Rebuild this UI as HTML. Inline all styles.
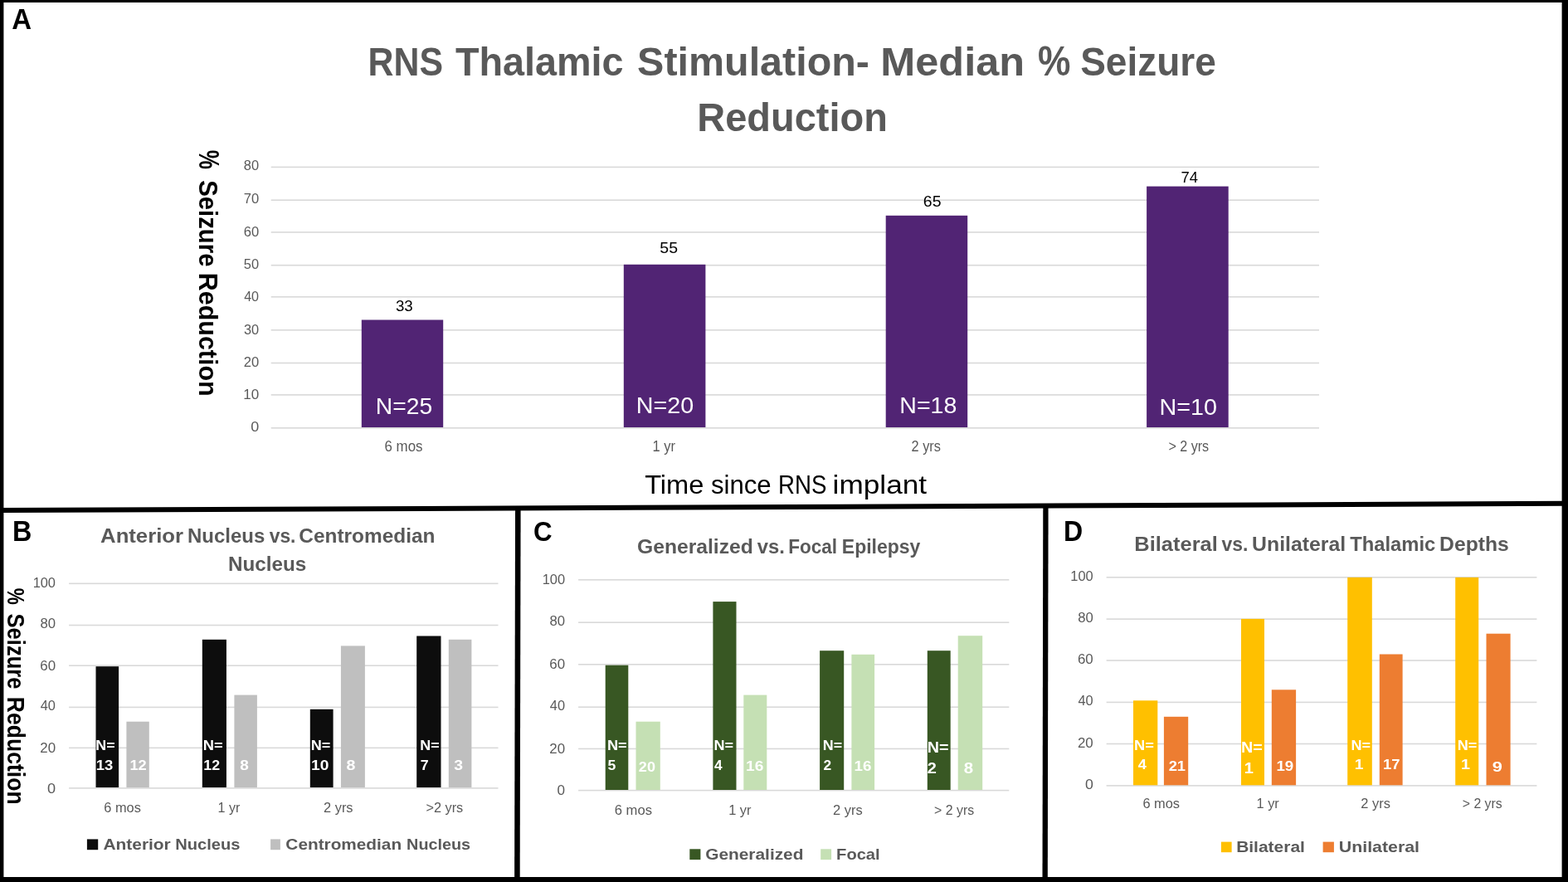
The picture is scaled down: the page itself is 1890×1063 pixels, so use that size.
<!DOCTYPE html>
<html lang="en">
<head>
<meta charset="utf-8">
<title>RNS Thalamic Stimulation - Median % Seizure Reduction</title>
<style>
html,body{margin:0;padding:0;background:#fff;}
body{width:1890px;height:1063px;overflow:hidden;font-family:"Liberation Sans", sans-serif;}
svg text{white-space:pre;}
</style>
</head>
<body>
<svg width="1890" height="1063" viewBox="0 0 1890 1063" font-family='"Liberation Sans", sans-serif' style="display:block" role="img" aria-label="Bar charts of median percent seizure reduction after RNS thalamic stimulation">
<g id="panel-a" aria-label="A: RNS Thalamic Stimulation - Median % Seizure Reduction">
<rect x="326.70" y="515.00" width="1263.30" height="1.60" fill="#D9D9D9"/>
<rect x="326.70" y="475.10" width="1263.30" height="1.60" fill="#D9D9D9"/>
<rect x="326.70" y="436.70" width="1263.30" height="1.60" fill="#D9D9D9"/>
<rect x="326.70" y="397.00" width="1263.30" height="1.60" fill="#D9D9D9"/>
<rect x="326.70" y="357.00" width="1263.30" height="1.60" fill="#D9D9D9"/>
<rect x="326.70" y="318.90" width="1263.30" height="1.60" fill="#D9D9D9"/>
<rect x="326.70" y="279.10" width="1263.30" height="1.60" fill="#D9D9D9"/>
<rect x="326.70" y="240.40" width="1263.30" height="1.60" fill="#D9D9D9"/>
<rect x="326.70" y="200.60" width="1263.30" height="1.60" fill="#D9D9D9"/>
<rect x="435.80" y="385.50" width="98.40" height="129.50" fill="#512474"/>
<rect x="751.80" y="318.80" width="98.60" height="196.20" fill="#512474"/>
<rect x="1067.70" y="259.80" width="98.50" height="255.20" fill="#512474"/>
<rect x="1382.10" y="224.60" width="98.60" height="290.40" fill="#512474"/>
<text transform="translate(14.34 35.00) scale(0.9500 1)" font-size="34.68" fill="#000" font-weight="bold">A</text>
<text transform="translate(443.51 91.00) scale(0.8916 1)" font-size="48.06" fill="#595959" font-weight="bold">RNS</text>
<text transform="translate(548.93 91.00) scale(0.9729 1)" font-size="48.06" fill="#595959" font-weight="bold">Thalamic</text>
<text transform="translate(768.09 91.00) scale(1.0079 1)" font-size="48.06" fill="#595959" font-weight="bold">Stimulation-</text>
<text transform="translate(1061.32 91.00) scale(1.0495 1)" font-size="48.06" fill="#595959" font-weight="bold">Median</text>
<text transform="translate(1251.01 91.00) scale(0.8825 1)" font-size="50.29" fill="#595959" font-weight="bold">%</text>
<text transform="translate(1302.15 91.00) scale(0.9575 1)" font-size="48.06" fill="#595959" font-weight="bold">Seizure</text>
<text transform="translate(840.35 157.50) scale(0.9773 1)" font-size="48.06" fill="#595959" font-weight="bold">Reduction</text>
<text transform="translate(240.20 180.78) rotate(90) scale(0.7628 1)" font-size="34.29" fill="#000" font-weight="bold">%</text>
<text transform="translate(240.20 217.17) rotate(90) scale(0.9184 1)" font-size="31.94" fill="#000" font-weight="bold">Seizure</text>
<text transform="translate(240.20 328.82) rotate(90) scale(0.9531 1)" font-size="31.94" fill="#000" font-weight="bold">Reduction</text>
<text transform="translate(302.17 519.70) scale(1.0579 1)" font-size="16.96" fill="#595959">0</text>
<text transform="translate(293.23 481.00) scale(1.0014 1)" font-size="16.96" fill="#595959">10</text>
<text transform="translate(293.67 441.60) scale(0.9770 1)" font-size="16.96" fill="#595959">20</text>
<text transform="translate(293.93 403.00) scale(0.9629 1)" font-size="16.96" fill="#595959">30</text>
<text transform="translate(294.18 363.00) scale(0.9493 1)" font-size="16.96" fill="#595959">40</text>
<text transform="translate(293.84 323.60) scale(0.9676 1)" font-size="16.96" fill="#595959">50</text>
<text transform="translate(293.67 284.80) scale(0.9770 1)" font-size="16.96" fill="#595959">60</text>
<text transform="translate(293.67 244.80) scale(0.9770 1)" font-size="16.96" fill="#595959">70</text>
<text transform="translate(293.84 205.30) scale(0.9676 1)" font-size="16.96" fill="#595959">80</text>
<text transform="translate(476.94 374.80) scale(1.0503 1)" font-size="17.83" fill="#000">33</text>
<text transform="translate(795.32 305.40) scale(1.0935 1)" font-size="17.83" fill="#000">55</text>
<text transform="translate(1112.83 249.30) scale(1.0932 1)" font-size="17.83" fill="#000">65</text>
<text transform="translate(1423.58 219.80) scale(1.0095 1)" font-size="18.26" fill="#000">74</text>
<text transform="translate(452.84 499.30) scale(1.0063 1)" font-size="28.12" fill="#fff">N=25</text>
<text transform="translate(766.80 497.80) scale(1.0211 1)" font-size="28.12" fill="#fff">N=20</text>
<text transform="translate(1084.32 497.80) scale(1.0156 1)" font-size="28.12" fill="#fff">N=18</text>
<text transform="translate(1397.40 499.70) scale(1.0227 1)" font-size="28.12" fill="#fff">N=10</text>
<text transform="translate(463.56 543.50) scale(0.9619 1)" font-size="17.54" fill="#595959">6 mos</text>
<text transform="translate(786.57 543.50) scale(0.9390 1)" font-size="17.54" fill="#595959">1 yr</text>
<text transform="translate(1098.58 543.50) scale(0.9312 1)" font-size="17.54" fill="#595959">2 yrs</text>
<text transform="translate(1408.48 543.50) scale(0.9166 1)" font-size="17.54" fill="#595959">&gt; 2 yrs</text>
<text transform="translate(777.15 595.00) scale(1.0570 1)" font-size="30.87" fill="#000">Time</text>
<text transform="translate(856.92 595.00) scale(1.0097 1)" font-size="30.87" fill="#000">since</text>
<text transform="translate(938.09 595.00) scale(0.8956 1)" font-size="30.87" fill="#000">RNS</text>
<text transform="translate(1003.61 595.00) scale(1.1404 1)" font-size="30.87" fill="#000">implant</text>
</g>
<g id="panel-b" aria-label="B: Anterior Nucleus vs. Centromedian Nucleus">
<rect x="83.10" y="949.10" width="517.40" height="1.60" fill="#D9D9D9"/>
<rect x="83.10" y="900.55" width="517.40" height="1.60" fill="#D9D9D9"/>
<rect x="83.10" y="851.60" width="517.40" height="1.60" fill="#D9D9D9"/>
<rect x="83.10" y="801.40" width="517.40" height="1.60" fill="#D9D9D9"/>
<rect x="83.10" y="752.70" width="517.40" height="1.60" fill="#D9D9D9"/>
<rect x="83.10" y="702.50" width="517.40" height="1.60" fill="#D9D9D9"/>
<rect x="115.50" y="803.20" width="27.60" height="145.80" fill="#0D0D0D"/>
<rect x="152.40" y="869.70" width="27.40" height="79.30" fill="#BFBFBF"/>
<rect x="243.80" y="770.80" width="29.10" height="178.20" fill="#0D0D0D"/>
<rect x="282.40" y="837.60" width="27.50" height="111.40" fill="#BFBFBF"/>
<rect x="373.80" y="854.80" width="27.80" height="94.20" fill="#0D0D0D"/>
<rect x="410.90" y="778.40" width="29.00" height="170.60" fill="#BFBFBF"/>
<rect x="502.20" y="766.50" width="29.30" height="182.50" fill="#0D0D0D"/>
<rect x="540.80" y="770.80" width="27.60" height="178.20" fill="#BFBFBF"/>
<rect x="104.90" y="1011.40" width="13.30" height="12.80" fill="#0D0D0D"/>
<rect x="326.10" y="1011.40" width="11.80" height="12.80" fill="#BFBFBF"/>
<text transform="translate(15.00 651.80) scale(0.9409 1)" font-size="34.39" fill="#000" font-weight="bold">B</text>
<text transform="translate(121.09 653.60) scale(1.0561 1)" font-size="24.32" fill="#595959" font-weight="bold">Anterior</text>
<text transform="translate(226.04 653.60) scale(0.9855 1)" font-size="24.32" fill="#595959" font-weight="bold">Nucleus</text>
<text transform="translate(324.70 653.60) scale(0.9392 1)" font-size="24.32" fill="#595959" font-weight="bold">vs.</text>
<text transform="translate(360.32 653.60) scale(1.0048 1)" font-size="24.32" fill="#595959" font-weight="bold">Centromedian</text>
<text transform="translate(274.93 687.80) scale(0.9964 1)" font-size="24.32" fill="#595959" font-weight="bold">Nucleus</text>
<text transform="translate(8.50 708.75) rotate(90) scale(0.7535 1)" font-size="30.00" fill="#000" font-weight="bold">%</text>
<text transform="translate(8.50 739.56) rotate(90) scale(0.8805 1)" font-size="29.06" fill="#000" font-weight="bold">Seizure</text>
<text transform="translate(8.50 839.87) rotate(90) scale(0.9138 1)" font-size="29.06" fill="#000" font-weight="bold">Reduction</text>
<text transform="translate(56.96 955.50) scale(1.1279 1)" font-size="16.09" fill="#595959">0</text>
<text transform="translate(48.26 906.60) scale(1.0480 1)" font-size="16.09" fill="#595959">20</text>
<text transform="translate(48.77 856.30) scale(1.0182 1)" font-size="16.09" fill="#595959">40</text>
<text transform="translate(48.26 807.60) scale(1.0480 1)" font-size="16.09" fill="#595959">60</text>
<text transform="translate(48.43 757.40) scale(1.0379 1)" font-size="16.09" fill="#595959">80</text>
<text transform="translate(39.67 708.40) scale(1.0179 1)" font-size="16.09" fill="#595959">100</text>
<text transform="translate(115.34 903.60) scale(1.0715 1)" font-size="16.69" fill="#fff" font-weight="bold">N=</text>
<text transform="translate(115.70 927.60) scale(1.0761 1)" font-size="17.10" fill="#fff" font-weight="bold">13</text>
<text transform="translate(244.71 903.60) scale(1.0964 1)" font-size="16.69" fill="#fff" font-weight="bold">N=</text>
<text transform="translate(245.33 927.60) scale(1.0416 1)" font-size="17.10" fill="#fff" font-weight="bold">12</text>
<text transform="translate(374.72 903.60) scale(1.0865 1)" font-size="16.69" fill="#fff" font-weight="bold">N=</text>
<text transform="translate(375.05 927.60) scale(1.1221 1)" font-size="17.10" fill="#fff" font-weight="bold">10</text>
<text transform="translate(506.24 903.60) scale(1.0715 1)" font-size="16.69" fill="#fff" font-weight="bold">N=</text>
<text transform="translate(506.68 927.60) scale(1.0464 1)" font-size="17.10" fill="#fff" font-weight="bold">7</text>
<text transform="translate(156.40 927.60) scale(1.0703 1)" font-size="17.10" fill="#fff" font-weight="bold">12</text>
<text transform="translate(289.33 927.60) scale(1.1110 1)" font-size="17.10" fill="#fff" font-weight="bold">8</text>
<text transform="translate(417.41 927.60) scale(1.1461 1)" font-size="17.10" fill="#fff" font-weight="bold">8</text>
<text transform="translate(547.31 927.60) scale(1.1344 1)" font-size="17.10" fill="#fff" font-weight="bold">3</text>
<text transform="translate(125.28 979.20) scale(1.0462 1)" font-size="15.65" fill="#595959">6 mos</text>
<text transform="translate(262.59 979.20) scale(1.0277 1)" font-size="15.65" fill="#595959">1 yr</text>
<text transform="translate(390.08 979.20) scale(1.0464 1)" font-size="15.65" fill="#595959">2 yrs</text>
<text transform="translate(513.47 979.20) scale(1.0405 1)" font-size="15.65" fill="#595959">&gt;2 yrs</text>
<text transform="translate(124.38 1024.10) scale(1.0939 1)" font-size="19.14" fill="#595959" font-weight="bold">Anterior</text>
<text transform="translate(211.19 1024.10) scale(1.0509 1)" font-size="19.14" fill="#595959" font-weight="bold">Nucleus</text>
<text transform="translate(344.37 1024.10) scale(1.0866 1)" font-size="19.14" fill="#595959" font-weight="bold">Centromedian</text>
<text transform="translate(490.11 1024.10) scale(1.0344 1)" font-size="19.14" fill="#595959" font-weight="bold">Nucleus</text>
</g>
<g id="panel-c" aria-label="C: Generalized vs. Focal Epilepsy">
<rect x="697.10" y="951.80" width="519.20" height="1.60" fill="#D9D9D9"/>
<rect x="697.10" y="901.65" width="519.20" height="1.60" fill="#D9D9D9"/>
<rect x="697.10" y="851.40" width="519.20" height="1.60" fill="#D9D9D9"/>
<rect x="697.10" y="800.00" width="519.20" height="1.60" fill="#D9D9D9"/>
<rect x="697.10" y="749.40" width="519.20" height="1.60" fill="#D9D9D9"/>
<rect x="697.10" y="698.00" width="519.20" height="1.60" fill="#D9D9D9"/>
<rect x="729.70" y="801.70" width="27.60" height="150.30" fill="#385723"/>
<rect x="766.50" y="869.70" width="29.30" height="82.30" fill="#C5E0B4"/>
<rect x="859.40" y="725.10" width="28.10" height="226.90" fill="#385723"/>
<rect x="896.30" y="837.60" width="28.00" height="114.40" fill="#C5E0B4"/>
<rect x="988.10" y="784.20" width="29.10" height="167.80" fill="#385723"/>
<rect x="1026.40" y="788.80" width="27.70" height="163.20" fill="#C5E0B4"/>
<rect x="1117.80" y="784.20" width="27.90" height="167.80" fill="#385723"/>
<rect x="1154.70" y="766.20" width="29.50" height="185.80" fill="#C5E0B4"/>
<rect x="831.30" y="1023.30" width="13.10" height="12.80" fill="#385723"/>
<rect x="989.20" y="1023.30" width="12.90" height="12.80" fill="#C5E0B4"/>
<text transform="translate(643.05 651.50) scale(0.9256 1)" font-size="33.81" fill="#000" font-weight="bold">C</text>
<text transform="translate(768.01 666.70) scale(1.0210 1)" font-size="24.17" fill="#595959" font-weight="bold">Generalized</text>
<text transform="translate(912.70 666.70) scale(0.9855 1)" font-size="24.17" fill="#595959" font-weight="bold">vs.</text>
<text transform="translate(950.13 666.70) scale(0.9329 1)" font-size="24.17" fill="#595959" font-weight="bold">Focal</text>
<text transform="translate(1014.80 666.70) scale(0.9518 1)" font-size="24.17" fill="#595959" font-weight="bold">Epilepsy</text>
<text transform="translate(671.60 957.90) scale(1.0638 1)" font-size="16.09" fill="#595959">0</text>
<text transform="translate(662.36 907.90) scale(1.0480 1)" font-size="16.09" fill="#595959">20</text>
<text transform="translate(662.87 856.00) scale(1.0182 1)" font-size="16.09" fill="#595959">40</text>
<text transform="translate(662.36 806.00) scale(1.0480 1)" font-size="16.09" fill="#595959">60</text>
<text transform="translate(662.53 754.00) scale(1.0379 1)" font-size="16.09" fill="#595959">80</text>
<text transform="translate(653.67 704.30) scale(1.0219 1)" font-size="16.09" fill="#595959">100</text>
<text transform="translate(731.92 903.60) scale(1.0915 1)" font-size="16.69" fill="#fff" font-weight="bold">N=</text>
<text transform="translate(732.57 927.60) scale(1.0292 1)" font-size="17.10" fill="#fff" font-weight="bold">5</text>
<text transform="translate(769.86 930.20) scale(1.0564 1)" font-size="17.10" fill="#fff" font-weight="bold">20</text>
<text transform="translate(860.43 903.60) scale(1.0815 1)" font-size="16.69" fill="#fff" font-weight="bold">N=</text>
<text transform="translate(861.04 927.60) scale(1.0071 1)" font-size="17.10" fill="#fff" font-weight="bold">4</text>
<text transform="translate(899.05 928.70) scale(1.1221 1)" font-size="17.10" fill="#fff" font-weight="bold">16</text>
<text transform="translate(991.84 903.60) scale(1.0715 1)" font-size="16.69" fill="#fff" font-weight="bold">N=</text>
<text transform="translate(992.48 927.60) scale(1.0144 1)" font-size="17.10" fill="#fff" font-weight="bold">2</text>
<text transform="translate(1029.47 928.70) scale(1.0991 1)" font-size="17.10" fill="#fff" font-weight="bold">16</text>
<text transform="translate(1117.72 906.70) scale(1.0874 1)" font-size="18.13" fill="#fff" font-weight="bold">N=</text>
<text transform="translate(1117.70 931.60) scale(1.0781 1)" font-size="18.55" fill="#fff" font-weight="bold">2</text>
<text transform="translate(1161.69 931.90) scale(1.1444 1)" font-size="17.83" fill="#fff" font-weight="bold">8</text>
<text transform="translate(740.77 981.70) scale(1.0607 1)" font-size="15.65" fill="#595959">6 mos</text>
<text transform="translate(878.17 981.70) scale(1.0480 1)" font-size="15.65" fill="#595959">1 yr</text>
<text transform="translate(1003.98 981.70) scale(1.0525 1)" font-size="15.65" fill="#595959">2 yrs</text>
<text transform="translate(1126.08 981.70) scale(1.0161 1)" font-size="15.65" fill="#595959">&gt; 2 yrs</text>
<text transform="translate(850.16 1036.00) scale(1.0915 1)" font-size="19.14" fill="#595959" font-weight="bold">Generalized</text>
<text transform="translate(1008.09 1036.00) scale(1.0519 1)" font-size="19.14" fill="#595959" font-weight="bold">Focal</text>
</g>
<g id="panel-d" aria-label="D: Bilateral vs. Unilateral Thalamic Depths">
<rect x="1333.60" y="946.10" width="518.80" height="1.60" fill="#D9D9D9"/>
<rect x="1333.60" y="895.70" width="518.80" height="1.60" fill="#D9D9D9"/>
<rect x="1333.60" y="845.60" width="518.80" height="1.60" fill="#D9D9D9"/>
<rect x="1333.60" y="795.20" width="518.80" height="1.60" fill="#D9D9D9"/>
<rect x="1333.60" y="745.30" width="518.80" height="1.60" fill="#D9D9D9"/>
<rect x="1333.60" y="695.00" width="518.80" height="1.60" fill="#D9D9D9"/>
<rect x="1366.00" y="844.30" width="29.30" height="102.00" fill="#FFC000"/>
<rect x="1402.90" y="863.80" width="29.30" height="82.50" fill="#ED7D31"/>
<rect x="1496.00" y="745.90" width="28.00" height="200.40" fill="#FFC000"/>
<rect x="1532.80" y="831.30" width="29.30" height="115.00" fill="#ED7D31"/>
<rect x="1624.20" y="695.90" width="29.60" height="250.40" fill="#FFC000"/>
<rect x="1662.80" y="788.50" width="27.80" height="157.80" fill="#ED7D31"/>
<rect x="1754.20" y="695.90" width="28.00" height="250.40" fill="#FFC000"/>
<rect x="1791.50" y="763.70" width="29.10" height="182.60" fill="#ED7D31"/>
<rect x="1471.90" y="1014.60" width="12.70" height="12.60" fill="#FFC000"/>
<rect x="1594.60" y="1014.60" width="13.30" height="12.60" fill="#ED7D31"/>
<text transform="translate(1282.01 651.80) scale(0.9334 1)" font-size="34.39" fill="#000" font-weight="bold">D</text>
<text transform="translate(1367.34 663.80) scale(1.0410 1)" font-size="24.46" fill="#595959" font-weight="bold">Bilateral</text>
<text transform="translate(1472.50 663.80) scale(0.9399 1)" font-size="24.46" fill="#595959" font-weight="bold">vs.</text>
<text transform="translate(1509.11 663.80) scale(1.0144 1)" font-size="24.46" fill="#595959" font-weight="bold">Unilateral</text>
<text transform="translate(1627.26 663.80) scale(0.9719 1)" font-size="24.46" fill="#595959" font-weight="bold">Thalamic</text>
<text transform="translate(1735.09 663.80) scale(1.0096 1)" font-size="24.46" fill="#595959" font-weight="bold">Depths</text>
<text transform="translate(1307.88 950.50) scale(1.1023 1)" font-size="16.09" fill="#595959">0</text>
<text transform="translate(1298.96 900.70) scale(1.0480 1)" font-size="16.09" fill="#595959">20</text>
<text transform="translate(1299.47 850.20) scale(1.0182 1)" font-size="16.09" fill="#595959">40</text>
<text transform="translate(1298.96 799.90) scale(1.0480 1)" font-size="16.09" fill="#595959">60</text>
<text transform="translate(1299.13 749.90) scale(1.0379 1)" font-size="16.09" fill="#595959">80</text>
<text transform="translate(1290.27 699.90) scale(1.0219 1)" font-size="16.09" fill="#595959">100</text>
<text transform="translate(1367.01 903.60) scale(1.0964 1)" font-size="16.69" fill="#fff" font-weight="bold">N=</text>
<text transform="translate(1371.63 927.00) scale(1.0612 1)" font-size="17.10" fill="#fff" font-weight="bold">4</text>
<text transform="translate(1408.65 928.70) scale(1.0741 1)" font-size="17.10" fill="#fff" font-weight="bold">21</text>
<text transform="translate(1495.92 906.70) scale(1.0874 1)" font-size="18.13" fill="#fff" font-weight="bold">N=</text>
<text transform="translate(1499.70 931.60) scale(1.0615 1)" font-size="18.84" fill="#fff" font-weight="bold">1</text>
<text transform="translate(1538.38 928.70) scale(1.0934 1)" font-size="17.10" fill="#fff" font-weight="bold">19</text>
<text transform="translate(1628.43 903.60) scale(1.0815 1)" font-size="16.69" fill="#fff" font-weight="bold">N=</text>
<text transform="translate(1632.84 927.30) scale(1.1322 1)" font-size="17.10" fill="#fff" font-weight="bold">1</text>
<text transform="translate(1667.10 927.30) scale(1.0756 1)" font-size="17.10" fill="#fff" font-weight="bold">17</text>
<text transform="translate(1756.73 903.60) scale(1.0815 1)" font-size="16.69" fill="#fff" font-weight="bold">N=</text>
<text transform="translate(1761.01 927.30) scale(1.1571 1)" font-size="17.10" fill="#fff" font-weight="bold">1</text>
<text transform="translate(1798.74 929.80) scale(1.2769 1)" font-size="17.10" fill="#fff" font-weight="bold">9</text>
<text transform="translate(1377.38 974.40) scale(1.0486 1)" font-size="15.65" fill="#595959">6 mos</text>
<text transform="translate(1514.57 974.40) scale(1.0439 1)" font-size="15.65" fill="#595959">1 yr</text>
<text transform="translate(1640.28 974.40) scale(1.0495 1)" font-size="15.65" fill="#595959">2 yrs</text>
<text transform="translate(1762.79 974.40) scale(1.0096 1)" font-size="15.65" fill="#595959">&gt; 2 yrs</text>
<text transform="translate(1490.14 1027.10) scale(1.1045 1)" font-size="18.99" fill="#595959" font-weight="bold">Bilateral</text>
<text transform="translate(1613.82 1027.10) scale(1.1245 1)" font-size="18.99" fill="#595959" font-weight="bold">Unilateral</text>
</g>
<g id="frame" aria-label="panel borders">
<rect x="0.00" y="0.00" width="1890.00" height="3.00" fill="#000"/>
<rect x="0.00" y="0.00" width="4.40" height="1063.00" fill="#000"/>
<rect x="1882.60" y="0.00" width="7.40" height="1063.00" fill="#000"/>
<rect x="0.00" y="1057.00" width="1890.00" height="6.00" fill="#000"/>
<polygon points="0.00,612.10 1890.00,603.86 1890.00,609.86 0.00,618.10" fill="#000"/>
<polygon points="621.05,610.00 627.60,610.00 626.65,1060.00 620.10,1060.00" fill="#000"/>
<polygon points="1257.30,607.00 1263.60,607.00 1262.80,1060.00 1256.50,1060.00" fill="#000"/>
</g>
</svg>
</body>
</html>
